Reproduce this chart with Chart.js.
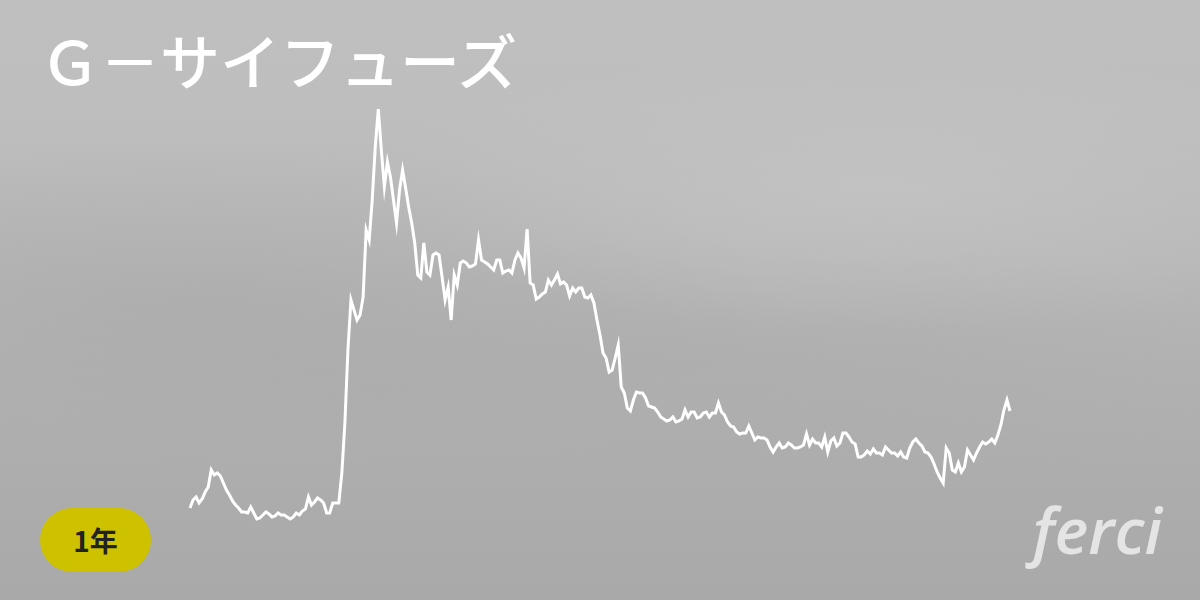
<!DOCTYPE html>
<html lang="ja">
<head>
  <meta charset="UTF-8" />
  <title>Ｇ－サイフューズ</title>
  <style>
    html, body {
      margin: 0;
      width: 1200px;
      height: 600px;
      overflow: hidden;
    }

    body {
      position: relative;
      background:
        radial-gradient(ellipse 520px 140px at 880px 190px, rgba(200, 200, 200, 0.55), rgba(200, 200, 200, 0)),
        radial-gradient(ellipse 600px 160px at 180px 300px, rgba(160, 160, 160, 0.35), rgba(160, 160, 160, 0)),
        radial-gradient(ellipse 700px 120px at 700px 360px, rgba(165, 165, 165, 0.3), rgba(165, 165, 165, 0)),
        linear-gradient(#bfbfbf 0px, #bebebe 110px, #b6b6b6 300px, #adadad 470px, #a9a9a9 600px);
    }

    #chart {
      position: absolute;
      left: 0;
      top: 0;
    }

    .title {
      position: absolute;
      left: 40px;
      top: 29px;
      font-family: "Noto Sans CJK JP", sans-serif;
      font-size: 60px;
      font-weight: 500;
      line-height: 1;
      color: #ffffff;
      white-space: nowrap;
    }

    .period {
      position: absolute;
      left: 40px;
      top: 508px;
      width: 111px;
      height: 64px;
      border-radius: 32px;
      background-color: #cdc100;
      color: #222222;
      font-family: "Noto Sans CJK JP", sans-serif;
      font-weight: 700;
      font-size: 28px;
      line-height: 64px;
      text-align: center;
    }

    .logo {
      position: absolute;
      right: 38px;
      top: 498px;
      font-family: "Open Sans", "Noto Sans", sans-serif;
      font-style: italic;
      font-weight: 600;
      font-size: 64px;
      line-height: 1;
      color: #e4e4e4;
    }
  </style>
</head>
<body>
  <canvas id="chart" width="1200" height="600"></canvas>
  <div class="title">Ｇ－サイフューズ</div>
  <div class="period">1年</div>
  <div class="logo">ferci</div>

  <script src="https://cdn.jsdelivr.net/npm/chart.js"></script>
  <script>
    // daily closes (yen), oldest first
    const pricesA = [
      860, 900, 915, 885, 905, 940, 965, 1050, 1025, 1035, 1020, 985, 950, 925, 895, 875,
      860, 840, 840, 835, 865, 835, 805, 810, 825, 840, 830, 815, 820, 835, 825, 825,
      815, 805, 815, 835, 825, 845, 855, 915, 875, 890, 910, 900, 885, 835, 835, 885,
      885, 885, 1035, 1285, 1650, 1900, 1850, 1800, 1825, 1915, 2250, 2200, 2400, 2665,
      2855, 2650, 2465, 2590, 2515, 2400, 2285, 2450, 2550, 2460, 2365, 2285, 2185, 2025,
      2010, 2185, 2040, 2025, 2125, 2135, 2125, 2015, 1900, 1965, 1800, 2025, 1975, 2085,
      2095, 2085, 2065, 2070, 2080, 2200, 2100, 2090, 2080, 2065, 2050, 2100, 2100, 2035,
      2045, 2050, 2035, 2100, 2135, 2110, 2060, 2255, 1985, 1975, 1905, 1915, 1930, 1940,
      2000, 1975, 2000, 2030, 1980, 1990, 1975, 1920, 1960, 1940, 1960
    ];
    const pricesB = [
      1960, 1915, 1910, 1925, 1885, 1800, 1725, 1635, 1610, 1540, 1550, 1610, 1675, 1465,
      1435, 1360, 1345, 1400, 1440, 1435, 1435, 1410, 1370, 1365, 1360, 1340, 1315, 1305,
      1295, 1300, 1315, 1290, 1295, 1305, 1350, 1315, 1340, 1340, 1310, 1315, 1335, 1340,
      1315, 1335, 1335, 1385, 1340, 1325, 1290, 1270, 1265, 1240, 1230, 1235, 1235, 1270,
      1235, 1200, 1215, 1210, 1210, 1200, 1165, 1140, 1165, 1185, 1160, 1165, 1185, 1175,
      1160, 1160, 1165, 1175, 1230, 1175, 1205, 1185, 1185, 1165, 1215, 1140, 1195, 1210,
      1170, 1185, 1235, 1235, 1215, 1190, 1180, 1115, 1115, 1125, 1145, 1130, 1155, 1135,
      1135, 1125, 1165, 1150, 1135, 1135, 1120, 1140, 1115, 1110, 1160, 1190, 1205, 1185,
      1170, 1140, 1135, 1115, 1080, 1040, 1010, 985, 1160, 1135, 1050, 1040, 1085, 1040,
      1065, 1150, 1125, 1100, 1135, 1165, 1190, 1180, 1190, 1205, 1185, 1225, 1275, 1350,
      1400, 1345
    ];
    const prices = pricesA.concat(pricesB);
    const days = prices.map((_, i) => `${i + 1}`);

    const Y_MIN = 800;
    const Y_MAX = 2860;

    const ctx = document.getElementById("chart").getContext("2d");

    new Chart(ctx, {
      type: "line",
      data: {
        labels: days,
        datasets: [{
          data: prices,
          borderColor: "#ffffff",
          borderWidth: 3,
          pointRadius: 0,
          tension: 0,
          fill: false,
          clip: false
        }]
      },
      options: {
        responsive: false,
        animation: false,
        layout: {
          padding: { left: 190, right: 190, top: 108, bottom: 80 }
        },
        plugins: {
          legend: { display: false },
          tooltip: { enabled: false },
          title: { display: false }
        },
        scales: {
          x: { display: false },
          y: { display: false, min: Y_MIN, max: Y_MAX }
        }
      }
    });
  </script>
</body>
</html>
